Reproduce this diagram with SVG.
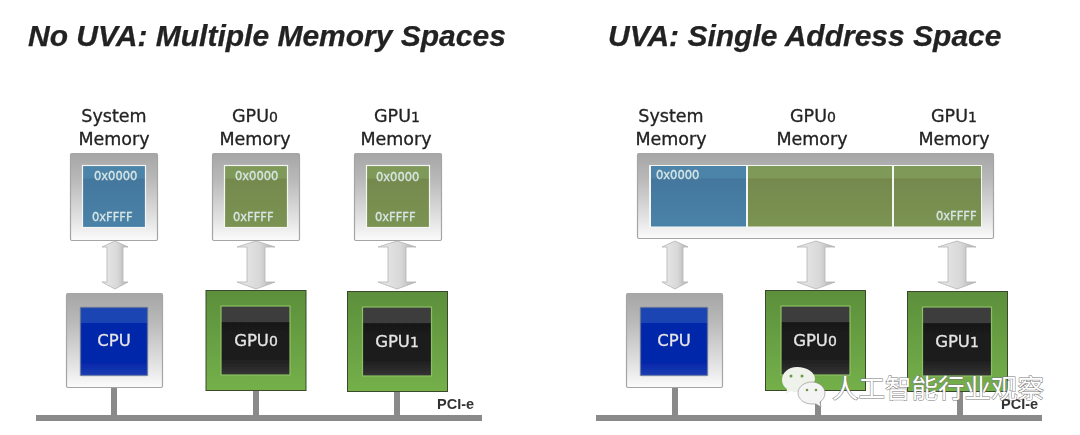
<svg xmlns="http://www.w3.org/2000/svg" width="1080" height="435" viewBox="0 0 1080 435">
<style>
text{font-family:"DejaVu Sans","Noto Sans CJK SC",sans-serif}
.title{font-family:"Liberation Sans",sans-serif;font-size:30px;font-weight:700;font-style:italic;fill:#222;stroke:#222;stroke-width:.25}
.lbl{font-size:17.5px;fill:#222;stroke:#222;stroke-width:.3;text-anchor:middle}
.addr{font-size:11.5px;fill:#d8e6e6;stroke:#d8e6e6;stroke-width:.3}
.chip{font-size:16.5px;fill:#e6e6e6;stroke:#e6e6e6;stroke-width:.3;text-anchor:middle}
.pci{font-family:"Liberation Sans",sans-serif;font-size:14.5px;font-weight:700;fill:#333}
.frame{fill:url(#fr);stroke:#a5a5a5;stroke-width:1.2}
.wh{fill:none;stroke:#f4f6f4;stroke-width:1.2}
.blue{fill:url(#bl)}.green{fill:url(#gn)}
.card{fill:url(#gc);stroke:#3a4a2c;stroke-width:1}
.die{fill:url(#dk);stroke:#8cc063;stroke-width:1.2}
.cpu{fill:url(#cp);stroke:#5d6c88;stroke-width:1.5;stroke-dasharray:1 1}
.bus{fill:#8a8a8a}
.arr{fill:url(#ar);stroke:#b4b4b4;stroke-width:.8}
.wm{font-size:26.5px;fill:#fff;stroke:#777;stroke-width:1;paint-order:stroke}
</style>
<defs>
<linearGradient id="fr" x1="0" y1="0" x2="0" y2="1"><stop offset="0" stop-color="#a6a6a6"/><stop offset=".3" stop-color="#b9b9b9"/><stop offset=".75" stop-color="#e2e2e2"/><stop offset="1" stop-color="#fbfbfb"/></linearGradient>
<linearGradient id="bl" x1="0" y1="0" x2="0" y2="1"><stop offset="0" stop-color="#4c84a8"/><stop offset=".2" stop-color="#4c84a8"/><stop offset=".21" stop-color="#44779d"/><stop offset="1" stop-color="#4a82a8"/></linearGradient>
<linearGradient id="gn" x1="0" y1="0" x2="0" y2="1"><stop offset="0" stop-color="#7f9a58"/><stop offset=".2" stop-color="#7f9a58"/><stop offset=".21" stop-color="#75894e"/><stop offset="1" stop-color="#7b9352"/></linearGradient>
<linearGradient id="gc" x1="0" y1="0" x2="0" y2="1"><stop offset="0" stop-color="#5c8f3c"/><stop offset="1" stop-color="#74b04a"/></linearGradient>
<linearGradient id="dk" x1="0" y1="0" x2="0" y2="1"><stop offset="0" stop-color="#3e3e3e"/><stop offset=".23" stop-color="#3e3e3e"/><stop offset=".24" stop-color="#191919"/><stop offset=".75" stop-color="#1c1c1c"/><stop offset="1" stop-color="#343434"/></linearGradient>
<linearGradient id="cp" x1="0" y1="0" x2="0" y2="1"><stop offset="0" stop-color="#1c44b4"/><stop offset=".22" stop-color="#1c44b4"/><stop offset=".23" stop-color="#0425aa"/><stop offset=".8" stop-color="#0425aa"/><stop offset="1" stop-color="#1a3db2"/></linearGradient>
<linearGradient id="ar" x1="0" y1="0" x2="1" y2="0"><stop offset="0" stop-color="#eaeaea"/><stop offset=".6" stop-color="#d8d8d8"/><stop offset="1" stop-color="#b0b0b0"/></linearGradient>
<filter id="soft" x="-2%" y="-2%" width="104%" height="104%"><feGaussianBlur stdDeviation=".4"/></filter>
<path id="a1" d="M0 0L13 6H8V41L13 41L0 48L-13 41L-8 41V6H-13Z"/>
<path id="a2" d="M0 0L19 6H9V41H19L0 48L-19 41H-9V6H-19Z"/>
</defs>
<g filter="url(#soft)">
<g id="titles">
<text class="title" x="28" y="46">No UVA: Multiple Memory Spaces</text>
<text class="title" x="608" y="46">UVA: Single Address Space</text>
</g>
<g id="connectors">
<rect class="bus" x="36" y="415" width="446" height="6"/>
<rect class="bus" x="596" y="415" width="446" height="6"/>
<rect class="bus" x="111" y="388" width="6" height="28"/>
<rect class="bus" x="253" y="390" width="6" height="26"/>
<rect class="bus" x="394" y="391" width="6" height="25"/>
<rect class="bus" x="672" y="388" width="6" height="28"/>
<rect class="bus" x="815" y="390" width="6" height="26"/>
<rect class="bus" x="957" y="391" width="6" height="25"/>
<use href="#a1" class="arr" x="115" y="241"/>
<use href="#a2" class="arr" x="256" y="241"/>
<use href="#a2" class="arr" x="397" y="241"/>
<use href="#a1" class="arr" x="675" y="241"/>
<use href="#a2" class="arr" x="816" y="241"/>
<use href="#a2" class="arr" x="957" y="241"/>
</g>
<g id="sysmem-left">
<text class="lbl" x="114" y="122">System</text><text class="lbl" x="114" y="145">Memory</text>
<rect class="frame" x="70.500" y="153.500" width="87" height="87" rx="1.500"/>
<rect class="blue" x="83" y="166" width="62" height="61"/><rect class="wh" x="82.500" y="165.500" width="63" height="62"/>
<text class="addr" x="94" y="180">0x0000</text><text class="addr" x="92" y="221">0xFFFF</text>
</g>
<g id="gpu0mem-left">
<text class="lbl" x="255" y="122">GPU<tspan font-size="14">0</tspan></text><text class="lbl" x="255" y="145">Memory</text>
<rect class="frame" x="212.500" y="153.500" width="87" height="87" rx="1.500"/>
<rect class="green" x="225" y="166" width="62" height="61"/><rect class="wh" x="224.500" y="165.500" width="63" height="62"/>
<text class="addr" x="235" y="180">0x0000</text><text class="addr" x="233" y="221">0xFFFF</text>
</g>
<g id="gpu1mem-left">
<text class="lbl" x="397" y="122">GPU<tspan font-size="14">1</tspan></text><text class="lbl" x="396" y="145">Memory</text>
<rect class="frame" x="354.500" y="153.500" width="87" height="87" rx="1.500"/>
<rect class="green" x="367" y="166" width="62" height="61"/><rect class="wh" x="366.500" y="165.500" width="63" height="62"/>
<text class="addr" x="376" y="181">0x0000</text><text class="addr" x="375" y="221">0xFFFF</text>
</g>
<g id="cpu-left">
<rect class="frame" x="66.500" y="293.500" width="96" height="94" rx="1.500"/>
<rect class="cpu" x="80.500" y="307.500" width="67" height="68"/>
<text class="chip" x="114" y="346">CPU</text>
</g>
<g id="gpu0-left">
<rect class="card" x="206" y="290.500" width="100" height="100"/>
<rect class="die" x="221" y="306" width="69" height="69"/>
<text class="chip" x="256" y="346">GPU<tspan font-size="14">0</tspan></text>
</g>
<g id="gpu1-left">
<rect class="card" x="347.500" y="291.500" width="100" height="100"/>
<rect class="die" x="362.500" y="307" width="69" height="69"/>
<text class="chip" x="397" y="347">GPU<tspan font-size="14">1</tspan></text>
</g>
<text class="pci" x="437" y="409">PCI-e</text>
<g id="unified-memory">
<text class="lbl" x="671" y="122">System</text><text class="lbl" x="671" y="145">Memory</text>
<text class="lbl" x="813" y="122">GPU<tspan font-size="14">0</tspan></text><text class="lbl" x="812" y="145">Memory</text>
<text class="lbl" x="954" y="122">GPU<tspan font-size="14">1</tspan></text><text class="lbl" x="954" y="145">Memory</text>
<rect class="frame" x="637.500" y="153.500" width="356" height="85" rx="1.500"/>
<rect x="649" y="165" width="333" height="62.500" fill="#f4f6f4"/>
<rect class="blue" x="651" y="166" width="95" height="60.500"/>
<rect class="green" x="748" y="166" width="144" height="60.500"/>
<rect class="green" x="894" y="166" width="87" height="60.500"/>
<text class="addr" x="656" y="179">0x0000</text><text class="addr" x="936" y="220">0xFFFF</text>
</g>
<g id="cpu-right">
<rect class="frame" x="626.500" y="293.500" width="96" height="94" rx="1.500"/>
<rect class="cpu" x="640.500" y="307.500" width="67" height="68"/>
<text class="chip" x="674" y="346">CPU</text>
</g>
<g id="gpu0-right">
<rect class="card" x="765.500" y="290.500" width="100" height="100"/>
<rect class="die" x="781" y="306" width="69" height="69"/>
<text class="chip" x="815" y="346">GPU<tspan font-size="14">0</tspan></text>
</g>
<g id="gpu1-right">
<rect class="card" x="907.500" y="291.500" width="100" height="100"/>
<rect class="die" x="922.500" y="307" width="69" height="69"/>
<text class="chip" x="957" y="347">GPU<tspan font-size="14">1</tspan></text>
</g>
<text class="pci" x="1001" y="409">PCI-e</text>
</g>
<g id="watermark">
<path d="M797 367c-9 0-15 6-15 13 0 4 2 7 5 9l-1 5 5-3c2 1 4 1 6 1l5 0c4-1 13-8 13-13 0-7-8-12-18-12z" fill="#eef2ea"/>
<path d="M812 382c-8 0-14 5-14 11s6 11 14 11l4 0 5 3-1-5c3-2 5-5 5-9 0-6-6-11-13-11z" fill="#f4f4f4" stroke="#888" stroke-width=".6"/>
<circle cx="791" cy="376" r="1.500" fill="#6a9a45"/><circle cx="802" cy="376" r="1.500" fill="#6a9a45"/>
<circle cx="807" cy="390" r="1.300" fill="#6a9a45"/><circle cx="816" cy="390" r="1.300" fill="#6a9a45"/>
<text class="wm" x="832" y="398">人工智能行业观察</text>
</g>
</svg>
